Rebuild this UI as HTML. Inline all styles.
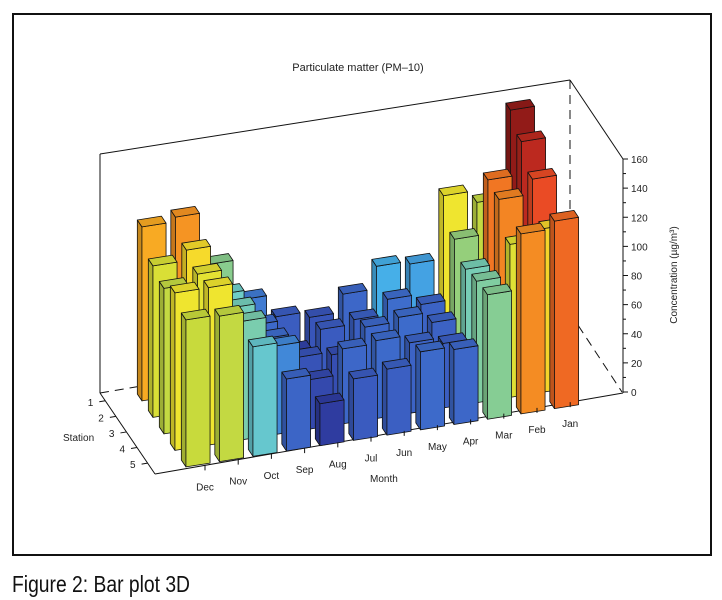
<!DOCTYPE html>
<html><head><meta charset="utf-8">
<style>
html,body{margin:0;padding:0;background:#fff;}
svg{display:block;font-family:"Liberation Sans",Arial,sans-serif;}
</style></head>
<body>
<svg id="chart" width="722" height="600" viewBox="0 0 722 600">
  <rect x="13" y="14" width="698" height="541" fill="none" stroke="#111" stroke-width="2"/>
  <text x="358" y="71" font-size="11" text-anchor="middle" fill="#222">Particulate matter (PM–10)</text>
  <g id="box" fill="none" stroke="#111" stroke-width="1">
    <line x1="100" y1="154" x2="570" y2="80"/>
    <line x1="100" y1="154" x2="100" y2="393"/>
    <line x1="570" y1="80" x2="623" y2="159"/>
    <line x1="570" y1="80" x2="570" y2="313" stroke-dasharray="9,6"/>
    <line x1="570" y1="313" x2="622" y2="392" stroke-dasharray="9,6"/>
    <line x1="100" y1="393" x2="570" y2="313" stroke-dasharray="9,6"/>
    <line x1="100" y1="393" x2="155" y2="474"/>
    <line x1="155" y1="474" x2="623" y2="393"/>
    <line x1="623" y1="159" x2="623" y2="393"/>
  </g>
  <g id="bars"></g>
  <g id="axes"></g>
  <text x="63" y="441" font-size="10" fill="#222">Station</text>
  <text x="370" y="482" font-size="10" fill="#222">Month</text>
  <text transform="translate(677,275) rotate(-90)" font-size="10" text-anchor="middle" fill="#222">Concentration (µg/m³)</text>
  <text x="12" y="592" font-size="23" fill="#111" font-family="'Liberation Sans Narrow','Liberation Sans',sans-serif" textLength="178" lengthAdjust="spacingAndGlyphs">Figure 2: Bar plot 3D</text>
</svg>
<script>
const months = ["Dec","Nov","Oct","Sep","Aug","Jul","Jun","May","Apr","Mar","Feb","Jan"];
const stations = ["1","2","3","4","5"];
const station1 = [116,119,84,57,42,38,50,65,63,105,97,155];
const station2 = [101,108,75,51,30,41,44,54,47,87,123,145];
const station3 = [97,103,77,53,37,35,50,53,46,78,121,131];
const station4 = [105,105,79,59,33,50,52,47,43,81,102,109];
const station5 = [98,97,73,48,28,41,44,52,50,83,120,125];
const zTicks = [0,20,40,60,80,100,120,140,160];
const series = [station1,station2,station3,station4,station5];

const NS="http://www.w3.org/2000/svg";
function P(m,s,z){
  return [198+33.5*m-11*(4-s), 465-5.3*m-16.5*(4-s)-1.5*z];
}
function zY(v){ return 392 - v*(233/160); }
const stops=[[20,[40,40,140]],[40,[58,90,190]],[55,[62,110,205]],[65,[70,175,232]],[75,[110,205,200]],[85,[140,205,135]],[98,[200,218,60]],[106,[245,230,45]],[116,[248,170,35]],[124,[240,110,35]],[135,[230,55,38]],[160,[125,20,20]]];
function col(v,f){
  let c=stops[stops.length-1][1];
  for(let i=0;i<stops.length-1;i++){
    if(v<=stops[0][0]){c=stops[0][1];break;}
    if(v>=stops[i][0]&&v<=stops[i+1][0]){const t=(v-stops[i][0])/(stops[i+1][0]-stops[i][0]);
      c=stops[i][1].map((a,k)=>a+(stops[i+1][1][k]-a)*t);break;}
  }
  return "rgb("+c.map(a=>Math.round(Math.min(255,a*f))).join(",")+")";
}
function poly(g,pts,fill){
  const p=document.createElementNS(NS,"polygon");
  p.setAttribute("points",pts.map(q=>q.join(",")).join(" "));
  p.setAttribute("fill",fill);p.setAttribute("stroke","#111");p.setAttribute("stroke-width","0.8");
  p.setAttribute("stroke-linejoin","round");
  g.appendChild(p);return p;
}
const bars=document.getElementById("bars");
const hw=0.36, dep=0.42;
for(let s=0;s<series.length;s++){
  for(let m=months.length-1;m>=0;m--){
    const v=series[s][m];
    const g=document.createElementNS(NS,"g");
    
    
    const m0=m-hw,m1=m+hw,s0=s-dep,s1=s;
    poly(g,[P(m0,s0,0),P(m0,s1,0),P(m0,s1,v),P(m0,s0,v)],col(v,0.8));
    poly(g,[P(m0,s1,0),P(m1,s1,0),P(m1,s1,v),P(m0,s1,v)],col(v,1));
    poly(g,[P(m0,s0,v),P(m1,s0,v),P(m1,s1,v),P(m0,s1,v)],col(v,0.92));
    bars.appendChild(g);
  }
}
const axes=document.getElementById("axes");
function line(x1,y1,x2,y2){const l=document.createElementNS(NS,"line");
  l.setAttribute("x1",x1);l.setAttribute("y1",y1);l.setAttribute("x2",x2);l.setAttribute("y2",y2);
  l.setAttribute("stroke","#111");l.setAttribute("stroke-width","1");axes.appendChild(l);return l;}
function text(x,y,t,anchor){const e=document.createElementNS(NS,"text");
  e.setAttribute("x",x);e.setAttribute("y",y);e.setAttribute("font-size","10");e.setAttribute("fill","#222");
  if(anchor)e.setAttribute("text-anchor",anchor);e.textContent=t;axes.appendChild(e);return e;}
zTicks.forEach(v=>{
  const y=zY(v);
  line(623,y,628,y);
  const t=text(631,y+4,String(v));
  
  
});
for(let i=0;i<8;i++){const y=zY(10+20*i);line(623,y,626,y);}
months.forEach((mn,m)=>{
  const x=205+33.2*m;
  const y=474-(474-393)*(x-155)/(623-155);
  line(x,y,x,y+5);
  const t=text(x,y+25,mn,"middle");
  
  
});
stations.forEach((st,s)=>{
  const f=(s+0.5)/5.2, x=100+55*f, y=393+81*f;
  line(x,y,x-6,y+1);
  const t=text(x-12,y+5,st,"end");
  
  
});
</script>
</body></html>
